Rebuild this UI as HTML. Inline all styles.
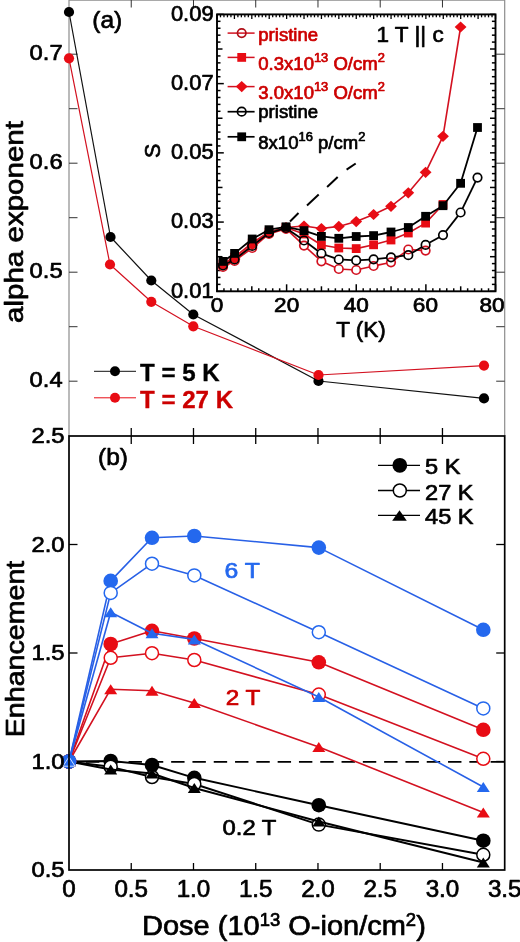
<!DOCTYPE html><html><head><meta charset="utf-8"><title>Figure</title><style>html,body{margin:0;padding:0;background:#fff}svg{display:block}text{font-family:"Liberation Sans",Arial,Helvetica,sans-serif}</style></head><body>
<svg width="520" height="942" viewBox="0 0 520 942">
<rect width="520" height="942" fill="#fff"/>
<line x1="69.00" y1="0.00" x2="69.00" y2="436.00" stroke="#8c8c8c" stroke-width="1.2" />
<line x1="504.70" y1="0.00" x2="504.70" y2="436.00" stroke="#8c8c8c" stroke-width="1.2" />
<line x1="69.00" y1="0.20" x2="504.70" y2="0.20" stroke="#8c8c8c" stroke-width="1.2" />
<line x1="69.00" y1="54.20" x2="77.50" y2="54.20" stroke="#333" stroke-width="1" />
<line x1="496.20" y1="54.20" x2="504.70" y2="54.20" stroke="#333" stroke-width="1" />
<line x1="69.00" y1="108.70" x2="77.50" y2="108.70" stroke="#333" stroke-width="1" />
<line x1="496.20" y1="108.70" x2="504.70" y2="108.70" stroke="#333" stroke-width="1" />
<line x1="69.00" y1="163.20" x2="77.50" y2="163.20" stroke="#333" stroke-width="1" />
<line x1="496.20" y1="163.20" x2="504.70" y2="163.20" stroke="#333" stroke-width="1" />
<line x1="69.00" y1="217.70" x2="77.50" y2="217.70" stroke="#333" stroke-width="1" />
<line x1="496.20" y1="217.70" x2="504.70" y2="217.70" stroke="#333" stroke-width="1" />
<line x1="69.00" y1="272.20" x2="77.50" y2="272.20" stroke="#333" stroke-width="1" />
<line x1="496.20" y1="272.20" x2="504.70" y2="272.20" stroke="#333" stroke-width="1" />
<line x1="69.00" y1="326.70" x2="77.50" y2="326.70" stroke="#333" stroke-width="1" />
<line x1="496.20" y1="326.70" x2="504.70" y2="326.70" stroke="#333" stroke-width="1" />
<line x1="69.00" y1="381.20" x2="77.50" y2="381.20" stroke="#333" stroke-width="1" />
<line x1="496.20" y1="381.20" x2="504.70" y2="381.20" stroke="#333" stroke-width="1" />
<line x1="131.24" y1="0.00" x2="131.24" y2="7.50" stroke="#333" stroke-width="1" />
<line x1="193.49" y1="0.00" x2="193.49" y2="7.50" stroke="#333" stroke-width="1" />
<line x1="255.73" y1="0.00" x2="255.73" y2="7.50" stroke="#333" stroke-width="1" />
<line x1="317.97" y1="0.00" x2="317.97" y2="7.50" stroke="#333" stroke-width="1" />
<line x1="380.21" y1="0.00" x2="380.21" y2="7.50" stroke="#333" stroke-width="1" />
<line x1="442.46" y1="0.00" x2="442.46" y2="7.50" stroke="#333" stroke-width="1" />
<polyline fill="none" stroke="#111" stroke-width="1.2" stroke-linejoin="round" points="69.0,12.0 110.5,237.0 151.3,280.5 193.3,314.5 318.5,381.0 484.0,398.4"/>
<polyline fill="none" stroke="#d31120" stroke-width="1.2" stroke-linejoin="round" points="69.0,58.3 110.0,264.5 151.3,301.8 193.3,326.3 318.5,375.0 484.0,365.6"/>
<circle cx="69.0" cy="12.0" r="5.1" fill="#000" stroke="none" stroke-width="0"/>
<circle cx="110.5" cy="237.0" r="5.1" fill="#000" stroke="none" stroke-width="0"/>
<circle cx="151.3" cy="280.5" r="5.1" fill="#000" stroke="none" stroke-width="0"/>
<circle cx="193.3" cy="314.5" r="5.1" fill="#000" stroke="none" stroke-width="0"/>
<circle cx="318.5" cy="381.0" r="5.1" fill="#000" stroke="none" stroke-width="0"/>
<circle cx="484.0" cy="398.4" r="5.1" fill="#000" stroke="none" stroke-width="0"/>
<circle cx="69.0" cy="58.3" r="5.1" fill="#e80c14" stroke="none" stroke-width="0"/>
<circle cx="110.0" cy="264.5" r="5.1" fill="#e80c14" stroke="none" stroke-width="0"/>
<circle cx="151.3" cy="301.8" r="5.1" fill="#e80c14" stroke="none" stroke-width="0"/>
<circle cx="193.3" cy="326.3" r="5.1" fill="#e80c14" stroke="none" stroke-width="0"/>
<circle cx="318.5" cy="375.0" r="5.1" fill="#e80c14" stroke="none" stroke-width="0"/>
<circle cx="484.0" cy="365.6" r="5.1" fill="#e80c14" stroke="none" stroke-width="0"/>
<line x1="94.00" y1="371.30" x2="136.00" y2="371.30" stroke="#111" stroke-width="1" />
<circle cx="115.0" cy="371.3" r="5" fill="#000" stroke="none" stroke-width="0"/>
<line x1="94.00" y1="397.80" x2="136.00" y2="397.80" stroke="#e80c14" stroke-width="1" />
<circle cx="115.0" cy="397.8" r="5" fill="#e80c14" stroke="none" stroke-width="0"/>
<text transform="translate(140.00,381.30) scale(0.985,1)" font-size="24.5" text-anchor="start" fill="#000" font-weight="bold"  stroke="#000" stroke-width="0.35" stroke-linejoin="round">T = 5 K</text>
<text transform="translate(140.00,408.20) scale(0.985,1)" font-size="24.5" text-anchor="start" fill="#cc0000" font-weight="bold"  stroke="#cc0000" stroke-width="0.35" stroke-linejoin="round">T = 27 K</text>
<text transform="translate(92.30,28.30)" font-size="24.5" text-anchor="start" fill="#000" font-weight="normal"  stroke="#000" stroke-width="0.7" stroke-linejoin="round">(a)</text>
<text transform="translate(62.60,60.00) scale(1.08,1)" font-size="22" text-anchor="end" fill="#000" font-weight="normal"  stroke="#000" stroke-width="0.7" stroke-linejoin="round">0.7</text>
<text transform="translate(62.60,169.00) scale(1.08,1)" font-size="22" text-anchor="end" fill="#000" font-weight="normal"  stroke="#000" stroke-width="0.7" stroke-linejoin="round">0.6</text>
<text transform="translate(62.60,278.00) scale(1.08,1)" font-size="22" text-anchor="end" fill="#000" font-weight="normal"  stroke="#000" stroke-width="0.7" stroke-linejoin="round">0.5</text>
<text transform="translate(62.60,387.00) scale(1.08,1)" font-size="22" text-anchor="end" fill="#000" font-weight="normal"  stroke="#000" stroke-width="0.7" stroke-linejoin="round">0.4</text>
<text transform="translate(22.90,222.00) rotate(-90) scale(1.115,1)" font-size="26.5" text-anchor="middle" fill="#000" font-weight="normal"  stroke="#000" stroke-width="0.7" stroke-linejoin="round">alpha exponent</text>
<rect x="217.0" y="14.4" width="278.5" height="276.90000000000003" fill="#fff" stroke="none"/>
<line x1="217.00" y1="291.30" x2="223.80" y2="291.30" stroke="#000" stroke-width="1.5" />
<line x1="490.00" y1="291.30" x2="495.50" y2="291.30" stroke="#000" stroke-width="1.5" />
<line x1="217.00" y1="284.38" x2="220.50" y2="284.38" stroke="#000" stroke-width="1.5" />
<line x1="491.90" y1="284.38" x2="495.50" y2="284.38" stroke="#000" stroke-width="1.5" />
<line x1="217.00" y1="277.45" x2="220.50" y2="277.45" stroke="#000" stroke-width="1.5" />
<line x1="491.90" y1="277.45" x2="495.50" y2="277.45" stroke="#000" stroke-width="1.5" />
<line x1="217.00" y1="270.53" x2="220.50" y2="270.53" stroke="#000" stroke-width="1.5" />
<line x1="491.90" y1="270.53" x2="495.50" y2="270.53" stroke="#000" stroke-width="1.5" />
<line x1="217.00" y1="263.61" x2="220.50" y2="263.61" stroke="#000" stroke-width="1.5" />
<line x1="491.90" y1="263.61" x2="495.50" y2="263.61" stroke="#000" stroke-width="1.5" />
<line x1="217.00" y1="256.69" x2="222.50" y2="256.69" stroke="#000" stroke-width="1.5" />
<line x1="490.00" y1="256.69" x2="495.50" y2="256.69" stroke="#000" stroke-width="1.5" />
<line x1="217.00" y1="249.77" x2="220.50" y2="249.77" stroke="#000" stroke-width="1.5" />
<line x1="491.90" y1="249.77" x2="495.50" y2="249.77" stroke="#000" stroke-width="1.5" />
<line x1="217.00" y1="242.84" x2="220.50" y2="242.84" stroke="#000" stroke-width="1.5" />
<line x1="491.90" y1="242.84" x2="495.50" y2="242.84" stroke="#000" stroke-width="1.5" />
<line x1="217.00" y1="235.92" x2="220.50" y2="235.92" stroke="#000" stroke-width="1.5" />
<line x1="491.90" y1="235.92" x2="495.50" y2="235.92" stroke="#000" stroke-width="1.5" />
<line x1="217.00" y1="229.00" x2="220.50" y2="229.00" stroke="#000" stroke-width="1.5" />
<line x1="491.90" y1="229.00" x2="495.50" y2="229.00" stroke="#000" stroke-width="1.5" />
<line x1="217.00" y1="222.07" x2="223.80" y2="222.07" stroke="#000" stroke-width="1.5" />
<line x1="490.00" y1="222.07" x2="495.50" y2="222.07" stroke="#000" stroke-width="1.5" />
<line x1="217.00" y1="215.15" x2="220.50" y2="215.15" stroke="#000" stroke-width="1.5" />
<line x1="491.90" y1="215.15" x2="495.50" y2="215.15" stroke="#000" stroke-width="1.5" />
<line x1="217.00" y1="208.23" x2="220.50" y2="208.23" stroke="#000" stroke-width="1.5" />
<line x1="491.90" y1="208.23" x2="495.50" y2="208.23" stroke="#000" stroke-width="1.5" />
<line x1="217.00" y1="201.31" x2="220.50" y2="201.31" stroke="#000" stroke-width="1.5" />
<line x1="491.90" y1="201.31" x2="495.50" y2="201.31" stroke="#000" stroke-width="1.5" />
<line x1="217.00" y1="194.38" x2="220.50" y2="194.38" stroke="#000" stroke-width="1.5" />
<line x1="491.90" y1="194.38" x2="495.50" y2="194.38" stroke="#000" stroke-width="1.5" />
<line x1="217.00" y1="187.46" x2="222.50" y2="187.46" stroke="#000" stroke-width="1.5" />
<line x1="490.00" y1="187.46" x2="495.50" y2="187.46" stroke="#000" stroke-width="1.5" />
<line x1="217.00" y1="180.54" x2="220.50" y2="180.54" stroke="#000" stroke-width="1.5" />
<line x1="491.90" y1="180.54" x2="495.50" y2="180.54" stroke="#000" stroke-width="1.5" />
<line x1="217.00" y1="173.62" x2="220.50" y2="173.62" stroke="#000" stroke-width="1.5" />
<line x1="491.90" y1="173.62" x2="495.50" y2="173.62" stroke="#000" stroke-width="1.5" />
<line x1="217.00" y1="166.69" x2="220.50" y2="166.69" stroke="#000" stroke-width="1.5" />
<line x1="491.90" y1="166.69" x2="495.50" y2="166.69" stroke="#000" stroke-width="1.5" />
<line x1="217.00" y1="159.77" x2="220.50" y2="159.77" stroke="#000" stroke-width="1.5" />
<line x1="491.90" y1="159.77" x2="495.50" y2="159.77" stroke="#000" stroke-width="1.5" />
<line x1="217.00" y1="152.85" x2="223.80" y2="152.85" stroke="#000" stroke-width="1.5" />
<line x1="490.00" y1="152.85" x2="495.50" y2="152.85" stroke="#000" stroke-width="1.5" />
<line x1="217.00" y1="145.93" x2="220.50" y2="145.93" stroke="#000" stroke-width="1.5" />
<line x1="491.90" y1="145.93" x2="495.50" y2="145.93" stroke="#000" stroke-width="1.5" />
<line x1="217.00" y1="139.01" x2="220.50" y2="139.01" stroke="#000" stroke-width="1.5" />
<line x1="491.90" y1="139.01" x2="495.50" y2="139.01" stroke="#000" stroke-width="1.5" />
<line x1="217.00" y1="132.08" x2="220.50" y2="132.08" stroke="#000" stroke-width="1.5" />
<line x1="491.90" y1="132.08" x2="495.50" y2="132.08" stroke="#000" stroke-width="1.5" />
<line x1="217.00" y1="125.16" x2="220.50" y2="125.16" stroke="#000" stroke-width="1.5" />
<line x1="491.90" y1="125.16" x2="495.50" y2="125.16" stroke="#000" stroke-width="1.5" />
<line x1="217.00" y1="118.24" x2="222.50" y2="118.24" stroke="#000" stroke-width="1.5" />
<line x1="490.00" y1="118.24" x2="495.50" y2="118.24" stroke="#000" stroke-width="1.5" />
<line x1="217.00" y1="111.31" x2="220.50" y2="111.31" stroke="#000" stroke-width="1.5" />
<line x1="491.90" y1="111.31" x2="495.50" y2="111.31" stroke="#000" stroke-width="1.5" />
<line x1="217.00" y1="104.39" x2="220.50" y2="104.39" stroke="#000" stroke-width="1.5" />
<line x1="491.90" y1="104.39" x2="495.50" y2="104.39" stroke="#000" stroke-width="1.5" />
<line x1="217.00" y1="97.47" x2="220.50" y2="97.47" stroke="#000" stroke-width="1.5" />
<line x1="491.90" y1="97.47" x2="495.50" y2="97.47" stroke="#000" stroke-width="1.5" />
<line x1="217.00" y1="90.55" x2="220.50" y2="90.55" stroke="#000" stroke-width="1.5" />
<line x1="491.90" y1="90.55" x2="495.50" y2="90.55" stroke="#000" stroke-width="1.5" />
<line x1="217.00" y1="83.62" x2="223.80" y2="83.62" stroke="#000" stroke-width="1.5" />
<line x1="490.00" y1="83.62" x2="495.50" y2="83.62" stroke="#000" stroke-width="1.5" />
<line x1="217.00" y1="76.70" x2="220.50" y2="76.70" stroke="#000" stroke-width="1.5" />
<line x1="491.90" y1="76.70" x2="495.50" y2="76.70" stroke="#000" stroke-width="1.5" />
<line x1="217.00" y1="69.78" x2="220.50" y2="69.78" stroke="#000" stroke-width="1.5" />
<line x1="491.90" y1="69.78" x2="495.50" y2="69.78" stroke="#000" stroke-width="1.5" />
<line x1="217.00" y1="62.86" x2="220.50" y2="62.86" stroke="#000" stroke-width="1.5" />
<line x1="491.90" y1="62.86" x2="495.50" y2="62.86" stroke="#000" stroke-width="1.5" />
<line x1="217.00" y1="55.93" x2="220.50" y2="55.93" stroke="#000" stroke-width="1.5" />
<line x1="491.90" y1="55.93" x2="495.50" y2="55.93" stroke="#000" stroke-width="1.5" />
<line x1="217.00" y1="49.01" x2="222.50" y2="49.01" stroke="#000" stroke-width="1.5" />
<line x1="490.00" y1="49.01" x2="495.50" y2="49.01" stroke="#000" stroke-width="1.5" />
<line x1="217.00" y1="42.09" x2="220.50" y2="42.09" stroke="#000" stroke-width="1.5" />
<line x1="491.90" y1="42.09" x2="495.50" y2="42.09" stroke="#000" stroke-width="1.5" />
<line x1="217.00" y1="35.17" x2="220.50" y2="35.17" stroke="#000" stroke-width="1.5" />
<line x1="491.90" y1="35.17" x2="495.50" y2="35.17" stroke="#000" stroke-width="1.5" />
<line x1="217.00" y1="28.25" x2="220.50" y2="28.25" stroke="#000" stroke-width="1.5" />
<line x1="491.90" y1="28.25" x2="495.50" y2="28.25" stroke="#000" stroke-width="1.5" />
<line x1="217.00" y1="21.32" x2="220.50" y2="21.32" stroke="#000" stroke-width="1.5" />
<line x1="491.90" y1="21.32" x2="495.50" y2="21.32" stroke="#000" stroke-width="1.5" />
<line x1="217.00" y1="14.40" x2="223.80" y2="14.40" stroke="#000" stroke-width="1.5" />
<line x1="490.00" y1="14.40" x2="495.50" y2="14.40" stroke="#000" stroke-width="1.5" />
<line x1="217.00" y1="291.30" x2="217.00" y2="284.30" stroke="#000" stroke-width="1.5" />
<line x1="223.96" y1="291.30" x2="223.96" y2="288.30" stroke="#000" stroke-width="1.5" />
<line x1="230.93" y1="291.30" x2="230.93" y2="288.30" stroke="#000" stroke-width="1.5" />
<line x1="237.89" y1="291.30" x2="237.89" y2="288.30" stroke="#000" stroke-width="1.5" />
<line x1="244.85" y1="291.30" x2="244.85" y2="288.30" stroke="#000" stroke-width="1.5" />
<line x1="251.81" y1="291.30" x2="251.81" y2="286.30" stroke="#000" stroke-width="1.5" />
<line x1="258.77" y1="291.30" x2="258.77" y2="288.30" stroke="#000" stroke-width="1.5" />
<line x1="265.74" y1="291.30" x2="265.74" y2="288.30" stroke="#000" stroke-width="1.5" />
<line x1="272.70" y1="291.30" x2="272.70" y2="288.30" stroke="#000" stroke-width="1.5" />
<line x1="279.66" y1="291.30" x2="279.66" y2="288.30" stroke="#000" stroke-width="1.5" />
<line x1="286.62" y1="291.30" x2="286.62" y2="284.30" stroke="#000" stroke-width="1.5" />
<line x1="293.59" y1="291.30" x2="293.59" y2="288.30" stroke="#000" stroke-width="1.5" />
<line x1="300.55" y1="291.30" x2="300.55" y2="288.30" stroke="#000" stroke-width="1.5" />
<line x1="307.51" y1="291.30" x2="307.51" y2="288.30" stroke="#000" stroke-width="1.5" />
<line x1="314.48" y1="291.30" x2="314.48" y2="288.30" stroke="#000" stroke-width="1.5" />
<line x1="321.44" y1="291.30" x2="321.44" y2="286.30" stroke="#000" stroke-width="1.5" />
<line x1="328.40" y1="291.30" x2="328.40" y2="288.30" stroke="#000" stroke-width="1.5" />
<line x1="335.36" y1="291.30" x2="335.36" y2="288.30" stroke="#000" stroke-width="1.5" />
<line x1="342.32" y1="291.30" x2="342.32" y2="288.30" stroke="#000" stroke-width="1.5" />
<line x1="349.29" y1="291.30" x2="349.29" y2="288.30" stroke="#000" stroke-width="1.5" />
<line x1="356.25" y1="291.30" x2="356.25" y2="284.30" stroke="#000" stroke-width="1.5" />
<line x1="363.21" y1="291.30" x2="363.21" y2="288.30" stroke="#000" stroke-width="1.5" />
<line x1="370.18" y1="291.30" x2="370.18" y2="288.30" stroke="#000" stroke-width="1.5" />
<line x1="377.14" y1="291.30" x2="377.14" y2="288.30" stroke="#000" stroke-width="1.5" />
<line x1="384.10" y1="291.30" x2="384.10" y2="288.30" stroke="#000" stroke-width="1.5" />
<line x1="391.06" y1="291.30" x2="391.06" y2="286.30" stroke="#000" stroke-width="1.5" />
<line x1="398.02" y1="291.30" x2="398.02" y2="288.30" stroke="#000" stroke-width="1.5" />
<line x1="404.99" y1="291.30" x2="404.99" y2="288.30" stroke="#000" stroke-width="1.5" />
<line x1="411.95" y1="291.30" x2="411.95" y2="288.30" stroke="#000" stroke-width="1.5" />
<line x1="418.91" y1="291.30" x2="418.91" y2="288.30" stroke="#000" stroke-width="1.5" />
<line x1="425.88" y1="291.30" x2="425.88" y2="284.30" stroke="#000" stroke-width="1.5" />
<line x1="432.84" y1="291.30" x2="432.84" y2="288.30" stroke="#000" stroke-width="1.5" />
<line x1="439.80" y1="291.30" x2="439.80" y2="288.30" stroke="#000" stroke-width="1.5" />
<line x1="446.76" y1="291.30" x2="446.76" y2="288.30" stroke="#000" stroke-width="1.5" />
<line x1="453.73" y1="291.30" x2="453.73" y2="288.30" stroke="#000" stroke-width="1.5" />
<line x1="460.69" y1="291.30" x2="460.69" y2="286.30" stroke="#000" stroke-width="1.5" />
<line x1="467.65" y1="291.30" x2="467.65" y2="288.30" stroke="#000" stroke-width="1.5" />
<line x1="474.61" y1="291.30" x2="474.61" y2="288.30" stroke="#000" stroke-width="1.5" />
<line x1="481.57" y1="291.30" x2="481.57" y2="288.30" stroke="#000" stroke-width="1.5" />
<line x1="488.54" y1="291.30" x2="488.54" y2="288.30" stroke="#000" stroke-width="1.5" />
<line x1="495.50" y1="291.30" x2="495.50" y2="284.30" stroke="#000" stroke-width="1.5" />
<line x1="217.00" y1="14.40" x2="217.00" y2="19.00" stroke="#000" stroke-width="1.3" />
<line x1="220.48" y1="14.40" x2="220.48" y2="17.30" stroke="#000" stroke-width="1.3" />
<line x1="223.96" y1="14.40" x2="223.96" y2="17.30" stroke="#000" stroke-width="1.3" />
<line x1="227.44" y1="14.40" x2="227.44" y2="17.30" stroke="#000" stroke-width="1.3" />
<line x1="230.93" y1="14.40" x2="230.93" y2="17.30" stroke="#000" stroke-width="1.3" />
<line x1="234.41" y1="14.40" x2="234.41" y2="19.00" stroke="#000" stroke-width="1.3" />
<line x1="237.89" y1="14.40" x2="237.89" y2="17.30" stroke="#000" stroke-width="1.3" />
<line x1="241.37" y1="14.40" x2="241.37" y2="17.30" stroke="#000" stroke-width="1.3" />
<line x1="244.85" y1="14.40" x2="244.85" y2="17.30" stroke="#000" stroke-width="1.3" />
<line x1="248.33" y1="14.40" x2="248.33" y2="17.30" stroke="#000" stroke-width="1.3" />
<line x1="251.81" y1="14.40" x2="251.81" y2="19.00" stroke="#000" stroke-width="1.3" />
<line x1="255.29" y1="14.40" x2="255.29" y2="17.30" stroke="#000" stroke-width="1.3" />
<line x1="258.77" y1="14.40" x2="258.77" y2="17.30" stroke="#000" stroke-width="1.3" />
<line x1="262.26" y1="14.40" x2="262.26" y2="17.30" stroke="#000" stroke-width="1.3" />
<line x1="265.74" y1="14.40" x2="265.74" y2="17.30" stroke="#000" stroke-width="1.3" />
<line x1="269.22" y1="14.40" x2="269.22" y2="19.00" stroke="#000" stroke-width="1.3" />
<line x1="272.70" y1="14.40" x2="272.70" y2="17.30" stroke="#000" stroke-width="1.3" />
<line x1="276.18" y1="14.40" x2="276.18" y2="17.30" stroke="#000" stroke-width="1.3" />
<line x1="279.66" y1="14.40" x2="279.66" y2="17.30" stroke="#000" stroke-width="1.3" />
<line x1="283.14" y1="14.40" x2="283.14" y2="17.30" stroke="#000" stroke-width="1.3" />
<line x1="286.62" y1="14.40" x2="286.62" y2="19.00" stroke="#000" stroke-width="1.3" />
<line x1="290.11" y1="14.40" x2="290.11" y2="17.30" stroke="#000" stroke-width="1.3" />
<line x1="293.59" y1="14.40" x2="293.59" y2="17.30" stroke="#000" stroke-width="1.3" />
<line x1="297.07" y1="14.40" x2="297.07" y2="17.30" stroke="#000" stroke-width="1.3" />
<line x1="300.55" y1="14.40" x2="300.55" y2="17.30" stroke="#000" stroke-width="1.3" />
<line x1="304.03" y1="14.40" x2="304.03" y2="19.00" stroke="#000" stroke-width="1.3" />
<line x1="307.51" y1="14.40" x2="307.51" y2="17.30" stroke="#000" stroke-width="1.3" />
<line x1="310.99" y1="14.40" x2="310.99" y2="17.30" stroke="#000" stroke-width="1.3" />
<line x1="314.48" y1="14.40" x2="314.48" y2="17.30" stroke="#000" stroke-width="1.3" />
<line x1="317.96" y1="14.40" x2="317.96" y2="17.30" stroke="#000" stroke-width="1.3" />
<line x1="321.44" y1="14.40" x2="321.44" y2="19.00" stroke="#000" stroke-width="1.3" />
<line x1="324.92" y1="14.40" x2="324.92" y2="17.30" stroke="#000" stroke-width="1.3" />
<line x1="328.40" y1="14.40" x2="328.40" y2="17.30" stroke="#000" stroke-width="1.3" />
<line x1="331.88" y1="14.40" x2="331.88" y2="17.30" stroke="#000" stroke-width="1.3" />
<line x1="335.36" y1="14.40" x2="335.36" y2="17.30" stroke="#000" stroke-width="1.3" />
<line x1="338.84" y1="14.40" x2="338.84" y2="19.00" stroke="#000" stroke-width="1.3" />
<line x1="342.32" y1="14.40" x2="342.32" y2="17.30" stroke="#000" stroke-width="1.3" />
<line x1="345.81" y1="14.40" x2="345.81" y2="17.30" stroke="#000" stroke-width="1.3" />
<line x1="349.29" y1="14.40" x2="349.29" y2="17.30" stroke="#000" stroke-width="1.3" />
<line x1="352.77" y1="14.40" x2="352.77" y2="17.30" stroke="#000" stroke-width="1.3" />
<line x1="356.25" y1="14.40" x2="356.25" y2="19.00" stroke="#000" stroke-width="1.3" />
<line x1="359.73" y1="14.40" x2="359.73" y2="17.30" stroke="#000" stroke-width="1.3" />
<line x1="363.21" y1="14.40" x2="363.21" y2="17.30" stroke="#000" stroke-width="1.3" />
<line x1="366.69" y1="14.40" x2="366.69" y2="17.30" stroke="#000" stroke-width="1.3" />
<line x1="370.18" y1="14.40" x2="370.18" y2="17.30" stroke="#000" stroke-width="1.3" />
<line x1="373.66" y1="14.40" x2="373.66" y2="19.00" stroke="#000" stroke-width="1.3" />
<line x1="377.14" y1="14.40" x2="377.14" y2="17.30" stroke="#000" stroke-width="1.3" />
<line x1="380.62" y1="14.40" x2="380.62" y2="17.30" stroke="#000" stroke-width="1.3" />
<line x1="384.10" y1="14.40" x2="384.10" y2="17.30" stroke="#000" stroke-width="1.3" />
<line x1="387.58" y1="14.40" x2="387.58" y2="17.30" stroke="#000" stroke-width="1.3" />
<line x1="391.06" y1="14.40" x2="391.06" y2="19.00" stroke="#000" stroke-width="1.3" />
<line x1="394.54" y1="14.40" x2="394.54" y2="17.30" stroke="#000" stroke-width="1.3" />
<line x1="398.02" y1="14.40" x2="398.02" y2="17.30" stroke="#000" stroke-width="1.3" />
<line x1="401.51" y1="14.40" x2="401.51" y2="17.30" stroke="#000" stroke-width="1.3" />
<line x1="404.99" y1="14.40" x2="404.99" y2="17.30" stroke="#000" stroke-width="1.3" />
<line x1="408.47" y1="14.40" x2="408.47" y2="19.00" stroke="#000" stroke-width="1.3" />
<line x1="411.95" y1="14.40" x2="411.95" y2="17.30" stroke="#000" stroke-width="1.3" />
<line x1="415.43" y1="14.40" x2="415.43" y2="17.30" stroke="#000" stroke-width="1.3" />
<line x1="418.91" y1="14.40" x2="418.91" y2="17.30" stroke="#000" stroke-width="1.3" />
<line x1="422.39" y1="14.40" x2="422.39" y2="17.30" stroke="#000" stroke-width="1.3" />
<line x1="425.88" y1="14.40" x2="425.88" y2="19.00" stroke="#000" stroke-width="1.3" />
<line x1="429.36" y1="14.40" x2="429.36" y2="17.30" stroke="#000" stroke-width="1.3" />
<line x1="432.84" y1="14.40" x2="432.84" y2="17.30" stroke="#000" stroke-width="1.3" />
<line x1="436.32" y1="14.40" x2="436.32" y2="17.30" stroke="#000" stroke-width="1.3" />
<line x1="439.80" y1="14.40" x2="439.80" y2="17.30" stroke="#000" stroke-width="1.3" />
<line x1="443.28" y1="14.40" x2="443.28" y2="19.00" stroke="#000" stroke-width="1.3" />
<line x1="446.76" y1="14.40" x2="446.76" y2="17.30" stroke="#000" stroke-width="1.3" />
<line x1="450.24" y1="14.40" x2="450.24" y2="17.30" stroke="#000" stroke-width="1.3" />
<line x1="453.73" y1="14.40" x2="453.73" y2="17.30" stroke="#000" stroke-width="1.3" />
<line x1="457.21" y1="14.40" x2="457.21" y2="17.30" stroke="#000" stroke-width="1.3" />
<line x1="460.69" y1="14.40" x2="460.69" y2="19.00" stroke="#000" stroke-width="1.3" />
<line x1="464.17" y1="14.40" x2="464.17" y2="17.30" stroke="#000" stroke-width="1.3" />
<line x1="467.65" y1="14.40" x2="467.65" y2="17.30" stroke="#000" stroke-width="1.3" />
<line x1="471.13" y1="14.40" x2="471.13" y2="17.30" stroke="#000" stroke-width="1.3" />
<line x1="474.61" y1="14.40" x2="474.61" y2="17.30" stroke="#000" stroke-width="1.3" />
<line x1="478.09" y1="14.40" x2="478.09" y2="19.00" stroke="#000" stroke-width="1.3" />
<line x1="481.57" y1="14.40" x2="481.57" y2="17.30" stroke="#000" stroke-width="1.3" />
<line x1="485.06" y1="14.40" x2="485.06" y2="17.30" stroke="#000" stroke-width="1.3" />
<line x1="488.54" y1="14.40" x2="488.54" y2="17.30" stroke="#000" stroke-width="1.3" />
<line x1="492.02" y1="14.40" x2="492.02" y2="17.30" stroke="#000" stroke-width="1.3" />
<line x1="495.50" y1="14.40" x2="495.50" y2="19.00" stroke="#000" stroke-width="1.3" />
<line x1="290.00" y1="221.50" x2="298.50" y2="213.00" stroke="#000" stroke-width="2" />
<line x1="307.00" y1="205.60" x2="318.70" y2="194.60" stroke="#000" stroke-width="2" />
<line x1="327.10" y1="187.00" x2="337.70" y2="177.00" stroke="#000" stroke-width="2" />
<line x1="346.60" y1="169.60" x2="355.70" y2="163.50" stroke="#000" stroke-width="2" />
<line x1="226.77" y1="265.05" x2="230.83" y2="262.95" stroke="#d31120" stroke-width="1.6" />
<line x1="238.02" y1="258.47" x2="248.78" y2="250.53" stroke="#d31120" stroke-width="1.6" />
<line x1="255.46" y1="245.28" x2="265.74" y2="236.72" stroke="#d31120" stroke-width="1.6" />
<line x1="273.06" y1="232.76" x2="281.94" y2="230.04" stroke="#d31120" stroke-width="1.6" />
<line x1="289.11" y1="231.70" x2="300.89" y2="242.70" stroke="#d31120" stroke-width="1.6" />
<line x1="307.16" y1="248.45" x2="318.24" y2="258.45" stroke="#d31120" stroke-width="1.6" />
<line x1="325.29" y1="263.02" x2="334.91" y2="267.28" stroke="#d31120" stroke-width="1.6" />
<line x1="343.04" y1="269.24" x2="351.96" y2="269.76" stroke="#d31120" stroke-width="1.6" />
<line x1="360.34" y1="269.05" x2="369.46" y2="266.95" stroke="#d31120" stroke-width="1.6" />
<line x1="377.76" y1="265.12" x2="386.84" y2="263.18" stroke="#d31120" stroke-width="1.6" />
<line x1="394.42" y1="259.77" x2="404.88" y2="252.03" stroke="#d31120" stroke-width="1.6" />
<line x1="412.54" y1="249.77" x2="421.36" y2="250.33" stroke="#d31120" stroke-width="1.6" />
<circle cx="223.0" cy="267.0" r="4.25" fill="none" stroke="#d31120" stroke-width="1.7"/>
<circle cx="234.6" cy="261.0" r="4.25" fill="none" stroke="#d31120" stroke-width="1.7"/>
<circle cx="252.2" cy="248.0" r="4.25" fill="none" stroke="#d31120" stroke-width="1.7"/>
<circle cx="269.0" cy="234.0" r="4.25" fill="none" stroke="#d31120" stroke-width="1.7"/>
<circle cx="286.0" cy="228.8" r="4.25" fill="none" stroke="#d31120" stroke-width="1.7"/>
<circle cx="304.0" cy="245.6" r="4.25" fill="none" stroke="#d31120" stroke-width="1.7"/>
<circle cx="321.4" cy="261.3" r="4.25" fill="none" stroke="#d31120" stroke-width="1.7"/>
<circle cx="338.8" cy="269.0" r="4.25" fill="none" stroke="#d31120" stroke-width="1.7"/>
<circle cx="356.2" cy="270.0" r="4.25" fill="none" stroke="#d31120" stroke-width="1.7"/>
<circle cx="373.6" cy="266.0" r="4.25" fill="none" stroke="#d31120" stroke-width="1.7"/>
<circle cx="391.0" cy="262.3" r="4.25" fill="none" stroke="#d31120" stroke-width="1.7"/>
<circle cx="408.3" cy="249.5" r="4.25" fill="none" stroke="#d31120" stroke-width="1.7"/>
<circle cx="425.6" cy="250.6" r="4.25" fill="none" stroke="#d31120" stroke-width="1.7"/>
<polyline fill="none" stroke="#d31120" stroke-width="1.6" stroke-linejoin="round" points="223.0,264.0 234.6,257.0 252.2,243.0 269.0,232.0 286.0,227.5 304.0,234.0 321.4,245.0 338.8,248.0 356.2,248.6 373.6,244.8 391.0,240.0 408.3,233.0 425.6,223.1 443.0,204.5"/>
<rect x="218.6" y="259.6" width="8.8" height="8.8" fill="#e80c14"/>
<rect x="230.2" y="252.6" width="8.8" height="8.8" fill="#e80c14"/>
<rect x="247.8" y="238.6" width="8.8" height="8.8" fill="#e80c14"/>
<rect x="264.6" y="227.6" width="8.8" height="8.8" fill="#e80c14"/>
<rect x="281.6" y="223.1" width="8.8" height="8.8" fill="#e80c14"/>
<rect x="299.6" y="229.6" width="8.8" height="8.8" fill="#e80c14"/>
<rect x="317.0" y="240.6" width="8.8" height="8.8" fill="#e80c14"/>
<rect x="334.4" y="243.6" width="8.8" height="8.8" fill="#e80c14"/>
<rect x="351.8" y="244.2" width="8.8" height="8.8" fill="#e80c14"/>
<rect x="369.2" y="240.4" width="8.8" height="8.8" fill="#e80c14"/>
<rect x="386.6" y="235.6" width="8.8" height="8.8" fill="#e80c14"/>
<rect x="403.9" y="228.6" width="8.8" height="8.8" fill="#e80c14"/>
<rect x="421.2" y="218.7" width="8.8" height="8.8" fill="#e80c14"/>
<rect x="438.6" y="200.1" width="8.8" height="8.8" fill="#e80c14"/>
<polyline fill="none" stroke="#d31120" stroke-width="1.6" stroke-linejoin="round" points="223.0,265.0 234.6,259.0 252.2,245.0 269.0,232.5 286.0,227.5 304.0,226.0 321.4,228.5 338.8,226.4 356.2,221.6 373.6,214.5 391.0,206.3 408.3,192.8 425.6,172.3 443.0,136.3 460.6,27.0"/>
<polygon fill="#e80c14" points="223.0,259.4 228.9,265.0 223.0,270.6 217.1,265.0"/>
<polygon fill="#e80c14" points="234.6,253.4 240.5,259.0 234.6,264.6 228.7,259.0"/>
<polygon fill="#e80c14" points="252.2,239.4 258.1,245.0 252.2,250.6 246.3,245.0"/>
<polygon fill="#e80c14" points="269.0,226.9 274.9,232.5 269.0,238.1 263.1,232.5"/>
<polygon fill="#e80c14" points="286.0,221.9 291.9,227.5 286.0,233.1 280.1,227.5"/>
<polygon fill="#e80c14" points="304.0,220.4 309.9,226.0 304.0,231.6 298.1,226.0"/>
<polygon fill="#e80c14" points="321.4,222.9 327.3,228.5 321.4,234.1 315.5,228.5"/>
<polygon fill="#e80c14" points="338.8,220.8 344.7,226.4 338.8,232.0 332.9,226.4"/>
<polygon fill="#e80c14" points="356.2,216.0 362.1,221.6 356.2,227.2 350.3,221.6"/>
<polygon fill="#e80c14" points="373.6,208.9 379.5,214.5 373.6,220.1 367.7,214.5"/>
<polygon fill="#e80c14" points="391.0,200.7 396.9,206.3 391.0,211.9 385.1,206.3"/>
<polygon fill="#e80c14" points="408.3,187.2 414.2,192.8 408.3,198.4 402.4,192.8"/>
<polygon fill="#e80c14" points="425.6,166.7 431.5,172.3 425.6,177.9 419.7,172.3"/>
<polygon fill="#e80c14" points="443.0,130.7 448.9,136.3 443.0,141.9 437.1,136.3"/>
<polygon fill="#e80c14" points="460.6,21.4 466.5,27.0 460.6,32.6 454.7,27.0"/>
<line x1="226.77" y1="263.55" x2="230.83" y2="261.45" stroke="#000" stroke-width="1.8" />
<line x1="237.97" y1="256.91" x2="248.83" y2="248.59" stroke="#000" stroke-width="1.8" />
<line x1="255.56" y1="243.40" x2="265.64" y2="235.60" stroke="#000" stroke-width="1.8" />
<line x1="273.08" y1="231.80" x2="281.92" y2="229.20" stroke="#000" stroke-width="1.8" />
<line x1="289.49" y1="230.42" x2="300.51" y2="238.08" stroke="#000" stroke-width="1.8" />
<line x1="307.40" y1="243.04" x2="318.00" y2="250.96" stroke="#000" stroke-width="1.8" />
<line x1="325.42" y1="254.89" x2="334.78" y2="258.11" stroke="#000" stroke-width="1.8" />
<line x1="343.04" y1="259.72" x2="351.96" y2="260.18" stroke="#000" stroke-width="1.8" />
<line x1="360.44" y1="260.13" x2="369.36" y2="259.57" stroke="#000" stroke-width="1.8" />
<line x1="377.82" y1="258.81" x2="386.78" y2="257.79" stroke="#000" stroke-width="1.8" />
<line x1="395.22" y1="256.79" x2="404.08" y2="255.71" stroke="#000" stroke-width="1.8" />
<line x1="411.95" y1="253.03" x2="421.95" y2="247.07" stroke="#000" stroke-width="1.8" />
<line x1="429.30" y1="242.81" x2="439.30" y2="237.19" stroke="#000" stroke-width="1.8" />
<line x1="445.61" y1="231.75" x2="457.99" y2="215.85" stroke="#000" stroke-width="1.8" />
<line x1="462.45" y1="208.67" x2="475.65" y2="181.43" stroke="#000" stroke-width="1.8" />
<circle cx="223.0" cy="265.5" r="4.25" fill="none" stroke="#000" stroke-width="1.7"/>
<circle cx="234.6" cy="259.5" r="4.25" fill="none" stroke="#000" stroke-width="1.7"/>
<circle cx="252.2" cy="246.0" r="4.25" fill="none" stroke="#000" stroke-width="1.7"/>
<circle cx="269.0" cy="233.0" r="4.25" fill="none" stroke="#000" stroke-width="1.7"/>
<circle cx="286.0" cy="228.0" r="4.25" fill="none" stroke="#000" stroke-width="1.7"/>
<circle cx="304.0" cy="240.5" r="4.25" fill="none" stroke="#000" stroke-width="1.7"/>
<circle cx="321.4" cy="253.5" r="4.25" fill="none" stroke="#000" stroke-width="1.7"/>
<circle cx="338.8" cy="259.5" r="4.25" fill="none" stroke="#000" stroke-width="1.7"/>
<circle cx="356.2" cy="260.4" r="4.25" fill="none" stroke="#000" stroke-width="1.7"/>
<circle cx="373.6" cy="259.3" r="4.25" fill="none" stroke="#000" stroke-width="1.7"/>
<circle cx="391.0" cy="257.3" r="4.25" fill="none" stroke="#000" stroke-width="1.7"/>
<circle cx="408.3" cy="255.2" r="4.25" fill="none" stroke="#000" stroke-width="1.7"/>
<circle cx="425.6" cy="244.9" r="4.25" fill="none" stroke="#000" stroke-width="1.7"/>
<circle cx="443.0" cy="235.1" r="4.25" fill="none" stroke="#000" stroke-width="1.7"/>
<circle cx="460.6" cy="212.5" r="4.25" fill="none" stroke="#000" stroke-width="1.7"/>
<circle cx="477.5" cy="177.6" r="4.25" fill="none" stroke="#000" stroke-width="1.7"/>
<polyline fill="none" stroke="#000" stroke-width="1.8" stroke-linejoin="round" points="223.0,261.4 234.6,253.4 252.2,239.0 269.0,229.7 286.0,226.8 304.0,230.6 321.4,236.4 338.8,238.3 356.2,236.5 373.6,235.6 391.0,232.0 408.3,227.5 425.6,216.3 443.0,205.7 460.6,183.3 477.5,127.5"/>
<rect x="218.6" y="257.0" width="8.8" height="8.8" fill="#000"/>
<rect x="230.2" y="249.0" width="8.8" height="8.8" fill="#000"/>
<rect x="247.8" y="234.6" width="8.8" height="8.8" fill="#000"/>
<rect x="264.6" y="225.3" width="8.8" height="8.8" fill="#000"/>
<rect x="281.6" y="222.4" width="8.8" height="8.8" fill="#000"/>
<rect x="299.6" y="226.2" width="8.8" height="8.8" fill="#000"/>
<rect x="317.0" y="232.0" width="8.8" height="8.8" fill="#000"/>
<rect x="334.4" y="233.9" width="8.8" height="8.8" fill="#000"/>
<rect x="351.8" y="232.1" width="8.8" height="8.8" fill="#000"/>
<rect x="369.2" y="231.2" width="8.8" height="8.8" fill="#000"/>
<rect x="386.6" y="227.6" width="8.8" height="8.8" fill="#000"/>
<rect x="403.9" y="223.1" width="8.8" height="8.8" fill="#000"/>
<rect x="421.2" y="211.9" width="8.8" height="8.8" fill="#000"/>
<rect x="438.6" y="201.3" width="8.8" height="8.8" fill="#000"/>
<rect x="456.2" y="178.9" width="8.8" height="8.8" fill="#000"/>
<rect x="473.1" y="123.1" width="8.8" height="8.8" fill="#000"/>
<rect x="217.0" y="14.4" width="278.5" height="276.90000000000003" fill="none" stroke="#000" stroke-width="1.9"/>
<line x1="227.60" y1="33.10" x2="254.60" y2="33.10" stroke="#d31120" stroke-width="1.5" />
<circle cx="241.7" cy="33.1" r="4.25" fill="none" stroke="#b01018" stroke-width="1.7"/>
<line x1="227.60" y1="57.40" x2="254.60" y2="57.40" stroke="#d31120" stroke-width="1.5" />
<rect x="237.3" y="53.0" width="8.8" height="8.8" fill="#e80c14"/>
<line x1="227.60" y1="86.60" x2="254.60" y2="86.60" stroke="#d31120" stroke-width="1.5" />
<polygon fill="#e80c14" points="241.7,81.0 247.6,86.6 241.7,92.2 235.8,86.6"/>
<line x1="227.60" y1="111.70" x2="254.60" y2="111.70" stroke="#000" stroke-width="1.7" />
<circle cx="241.7" cy="111.7" r="4.25" fill="none" stroke="#000" stroke-width="1.7"/>
<line x1="227.60" y1="136.80" x2="254.60" y2="136.80" stroke="#000" stroke-width="1.7" />
<rect x="237.3" y="132.4" width="8.8" height="8.8" fill="#000"/>
<text transform="translate(258.30,40.50) scale(1.03,1)" font-size="18" text-anchor="start" fill="#cc0000" font-weight="normal"  stroke="#cc0000" stroke-width="0.7" stroke-linejoin="round">pristine</text>
<text transform="translate(258.30,69.50) scale(1.03,1)" font-size="18" text-anchor="start" fill="#cc0000" font-weight="normal"  stroke="#cc0000" stroke-width="0.7" stroke-linejoin="round">0.3x10<tspan font-size="12.5" dy="-8">13</tspan><tspan dy="8"> O/cm</tspan><tspan font-size="12.5" dy="-8">2</tspan></text>
<text transform="translate(258.30,99.00) scale(1.03,1)" font-size="18" text-anchor="start" fill="#cc0000" font-weight="normal"  stroke="#cc0000" stroke-width="0.7" stroke-linejoin="round">3.0x10<tspan font-size="12.5" dy="-8">13</tspan><tspan dy="8"> O/cm</tspan><tspan font-size="12.5" dy="-8">2</tspan></text>
<text transform="translate(258.30,118.00) scale(1.03,1)" font-size="18" text-anchor="start" fill="#000" font-weight="normal"  stroke="#000" stroke-width="0.7" stroke-linejoin="round">pristine</text>
<text transform="translate(258.30,149.20) scale(1.03,1)" font-size="18" text-anchor="start" fill="#000" font-weight="normal"  stroke="#000" stroke-width="0.7" stroke-linejoin="round">8x10<tspan font-size="12.5" dy="-8">16</tspan><tspan dy="8"> p/cm</tspan><tspan font-size="12.5" dy="-8">2</tspan></text>
<text transform="translate(376.50,41.50)" font-size="22.5" text-anchor="start" fill="#000" font-weight="normal"  stroke="#000" stroke-width="0.7" stroke-linejoin="round">1 T || c</text>
<text transform="translate(213.60,20.80) scale(1.02,1)" font-size="21.5" text-anchor="end" fill="#000" font-weight="normal"  stroke="#000" stroke-width="0.7" stroke-linejoin="round">0.09</text>
<text transform="translate(213.60,90.02) scale(1.02,1)" font-size="21.5" text-anchor="end" fill="#000" font-weight="normal"  stroke="#000" stroke-width="0.7" stroke-linejoin="round">0.07</text>
<text transform="translate(213.60,159.25) scale(1.02,1)" font-size="21.5" text-anchor="end" fill="#000" font-weight="normal"  stroke="#000" stroke-width="0.7" stroke-linejoin="round">0.05</text>
<text transform="translate(213.60,228.47) scale(1.02,1)" font-size="21.5" text-anchor="end" fill="#000" font-weight="normal"  stroke="#000" stroke-width="0.7" stroke-linejoin="round">0.03</text>
<text transform="translate(213.60,297.70) scale(1.02,1)" font-size="21.5" text-anchor="end" fill="#000" font-weight="normal"  stroke="#000" stroke-width="0.7" stroke-linejoin="round">0.01</text>
<text transform="translate(217.00,312.00) scale(1.1,1)" font-size="20.5" text-anchor="middle" fill="#000" font-weight="normal"  stroke="#000" stroke-width="0.7" stroke-linejoin="round">0</text>
<text transform="translate(286.62,312.00) scale(1.1,1)" font-size="20.5" text-anchor="middle" fill="#000" font-weight="normal"  stroke="#000" stroke-width="0.7" stroke-linejoin="round">20</text>
<text transform="translate(356.25,312.00) scale(1.1,1)" font-size="20.5" text-anchor="middle" fill="#000" font-weight="normal"  stroke="#000" stroke-width="0.7" stroke-linejoin="round">40</text>
<text transform="translate(425.38,312.00) scale(1.1,1)" font-size="20.5" text-anchor="middle" fill="#000" font-weight="normal"  stroke="#000" stroke-width="0.7" stroke-linejoin="round">60</text>
<text transform="translate(492.00,312.00) scale(1.1,1)" font-size="20.5" text-anchor="middle" fill="#000" font-weight="normal"  stroke="#000" stroke-width="0.7" stroke-linejoin="round">80</text>
<text transform="translate(361.00,337.30)" font-size="22.5" text-anchor="middle" fill="#000" font-weight="normal"  stroke="#000" stroke-width="0.7" stroke-linejoin="round">T (K)</text>
<text transform="translate(160.00,150.80) rotate(-90)" font-size="21.5" text-anchor="middle" fill="#000" font-weight="normal"  stroke="#000" stroke-width="0.7" stroke-linejoin="round">S</text>
<line x1="69.00" y1="544.50" x2="77.50" y2="544.50" stroke="#000" stroke-width="1.3" />
<line x1="496.20" y1="544.50" x2="504.70" y2="544.50" stroke="#000" stroke-width="1.3" />
<line x1="69.00" y1="653.00" x2="77.50" y2="653.00" stroke="#000" stroke-width="1.3" />
<line x1="496.20" y1="653.00" x2="504.70" y2="653.00" stroke="#000" stroke-width="1.3" />
<line x1="69.00" y1="761.50" x2="77.50" y2="761.50" stroke="#000" stroke-width="1.3" />
<line x1="496.20" y1="761.50" x2="504.70" y2="761.50" stroke="#000" stroke-width="1.3" />
<line x1="131.24" y1="428.00" x2="131.24" y2="444.00" stroke="#000" stroke-width="1.3" />
<line x1="131.24" y1="863.00" x2="131.24" y2="870.00" stroke="#000" stroke-width="1.3" />
<line x1="193.49" y1="428.00" x2="193.49" y2="444.00" stroke="#000" stroke-width="1.3" />
<line x1="193.49" y1="863.00" x2="193.49" y2="870.00" stroke="#000" stroke-width="1.3" />
<line x1="255.73" y1="428.00" x2="255.73" y2="444.00" stroke="#000" stroke-width="1.3" />
<line x1="255.73" y1="863.00" x2="255.73" y2="870.00" stroke="#000" stroke-width="1.3" />
<line x1="317.97" y1="428.00" x2="317.97" y2="444.00" stroke="#000" stroke-width="1.3" />
<line x1="317.97" y1="863.00" x2="317.97" y2="870.00" stroke="#000" stroke-width="1.3" />
<line x1="380.21" y1="428.00" x2="380.21" y2="444.00" stroke="#000" stroke-width="1.3" />
<line x1="380.21" y1="863.00" x2="380.21" y2="870.00" stroke="#000" stroke-width="1.3" />
<line x1="442.46" y1="428.00" x2="442.46" y2="444.00" stroke="#000" stroke-width="1.3" />
<line x1="442.46" y1="863.00" x2="442.46" y2="870.00" stroke="#000" stroke-width="1.3" />
<line x1="64.65" y1="761.9" x2="504.7" y2="761.9" stroke="#000" stroke-width="1.7" stroke-dasharray="13.4 7.9"/>
<polyline fill="none" stroke="#000" stroke-width="1.9" stroke-linejoin="round" points="69.0,761.5 110.7,761.0 152.0,765.0 194.3,777.8 318.8,805.2 483.3,840.7"/>
<circle cx="69.0" cy="761.5" r="7.3" fill="#000" stroke="none" stroke-width="0"/>
<circle cx="110.7" cy="761.0" r="7.3" fill="#000" stroke="none" stroke-width="0"/>
<circle cx="152.0" cy="765.0" r="7.3" fill="#000" stroke="none" stroke-width="0"/>
<circle cx="194.3" cy="777.8" r="7.3" fill="#000" stroke="none" stroke-width="0"/>
<circle cx="318.8" cy="805.2" r="7.3" fill="#000" stroke="none" stroke-width="0"/>
<circle cx="483.3" cy="840.7" r="7.3" fill="#000" stroke="none" stroke-width="0"/>
<polyline fill="none" stroke="#000" stroke-width="1.9" stroke-linejoin="round" points="69.0,761.5 110.7,766.8 152.0,777.0 194.3,784.0 318.8,824.6 483.3,854.8"/>
<circle cx="69.0" cy="761.5" r="6.5" fill="#fff" stroke="#000" stroke-width="1.5"/>
<circle cx="110.7" cy="766.8" r="6.5" fill="#fff" stroke="#000" stroke-width="1.5"/>
<circle cx="152.0" cy="777.0" r="6.5" fill="#fff" stroke="#000" stroke-width="1.5"/>
<circle cx="194.3" cy="784.0" r="6.5" fill="#fff" stroke="#000" stroke-width="1.5"/>
<circle cx="318.8" cy="824.6" r="6.5" fill="#fff" stroke="#000" stroke-width="1.5"/>
<circle cx="483.3" cy="854.8" r="6.5" fill="#fff" stroke="#000" stroke-width="1.5"/>
<polyline fill="none" stroke="#000" stroke-width="1.9" stroke-linejoin="round" points="69.0,761.5 110.7,769.5 152.0,773.5 194.3,788.0 318.8,821.5 483.3,862.5"/>
<polygon fill="#000" stroke="none" stroke-width="0" points="69.0,756.5 75.5,766.5 62.5,766.5"/>
<polygon fill="#000" stroke="none" stroke-width="0" points="110.7,764.5 117.2,774.5 104.2,774.5"/>
<polygon fill="#000" stroke="none" stroke-width="0" points="152.0,768.5 158.5,778.5 145.5,778.5"/>
<polygon fill="#000" stroke="none" stroke-width="0" points="194.3,783.0 200.8,793.0 187.8,793.0"/>
<polygon fill="#000" stroke="none" stroke-width="0" points="318.8,816.5 325.3,826.5 312.3,826.5"/>
<polygon fill="#000" stroke="none" stroke-width="0" points="483.3,857.5 489.8,867.5 476.8,867.5"/>
<polyline fill="none" stroke="#d31120" stroke-width="1.6" stroke-linejoin="round" points="69.0,761.5 110.7,644.0 152.0,630.8 194.3,638.5 318.8,662.3 483.3,729.8"/>
<circle cx="69.0" cy="761.5" r="7.3" fill="#e80c14" stroke="none" stroke-width="0"/>
<circle cx="110.7" cy="644.0" r="7.3" fill="#e80c14" stroke="none" stroke-width="0"/>
<circle cx="152.0" cy="630.8" r="7.3" fill="#e80c14" stroke="none" stroke-width="0"/>
<circle cx="194.3" cy="638.5" r="7.3" fill="#e80c14" stroke="none" stroke-width="0"/>
<circle cx="318.8" cy="662.3" r="7.3" fill="#e80c14" stroke="none" stroke-width="0"/>
<circle cx="483.3" cy="729.8" r="7.3" fill="#e80c14" stroke="none" stroke-width="0"/>
<polyline fill="none" stroke="#d31120" stroke-width="1.6" stroke-linejoin="round" points="69.0,761.5 110.7,657.8 152.0,653.2 194.3,660.0 318.8,694.6 483.3,758.8"/>
<circle cx="69.0" cy="761.5" r="6.5" fill="#fff" stroke="#e80c14" stroke-width="1.5"/>
<circle cx="110.7" cy="657.8" r="6.5" fill="#fff" stroke="#e80c14" stroke-width="1.5"/>
<circle cx="152.0" cy="653.2" r="6.5" fill="#fff" stroke="#e80c14" stroke-width="1.5"/>
<circle cx="194.3" cy="660.0" r="6.5" fill="#fff" stroke="#e80c14" stroke-width="1.5"/>
<circle cx="318.8" cy="694.6" r="6.5" fill="#fff" stroke="#e80c14" stroke-width="1.5"/>
<circle cx="483.3" cy="758.8" r="6.5" fill="#fff" stroke="#e80c14" stroke-width="1.5"/>
<polyline fill="none" stroke="#d31120" stroke-width="1.6" stroke-linejoin="round" points="69.0,761.5 110.7,689.2 152.0,690.8 194.3,703.0 318.8,746.9 483.3,812.5"/>
<polygon fill="#e80c14" stroke="none" stroke-width="0" points="69.0,756.5 75.5,766.5 62.5,766.5"/>
<polygon fill="#e80c14" stroke="none" stroke-width="0" points="110.7,684.2 117.2,694.2 104.2,694.2"/>
<polygon fill="#e80c14" stroke="none" stroke-width="0" points="152.0,685.8 158.5,695.8 145.5,695.8"/>
<polygon fill="#e80c14" stroke="none" stroke-width="0" points="194.3,698.0 200.8,708.0 187.8,708.0"/>
<polygon fill="#e80c14" stroke="none" stroke-width="0" points="318.8,741.9 325.3,751.9 312.3,751.9"/>
<polygon fill="#e80c14" stroke="none" stroke-width="0" points="483.3,807.5 489.8,817.5 476.8,817.5"/>
<polyline fill="none" stroke="#2860e6" stroke-width="1.6" stroke-linejoin="round" points="69.0,761.5 110.7,580.9 152.0,537.8 194.3,536.0 318.8,547.6 483.3,629.8"/>
<circle cx="69.0" cy="761.5" r="7.3" fill="#2468ee" stroke="none" stroke-width="0"/>
<circle cx="110.7" cy="580.9" r="7.3" fill="#2468ee" stroke="none" stroke-width="0"/>
<circle cx="152.0" cy="537.8" r="7.3" fill="#2468ee" stroke="none" stroke-width="0"/>
<circle cx="194.3" cy="536.0" r="7.3" fill="#2468ee" stroke="none" stroke-width="0"/>
<circle cx="318.8" cy="547.6" r="7.3" fill="#2468ee" stroke="none" stroke-width="0"/>
<circle cx="483.3" cy="629.8" r="7.3" fill="#2468ee" stroke="none" stroke-width="0"/>
<polyline fill="none" stroke="#2860e6" stroke-width="1.6" stroke-linejoin="round" points="69.0,761.5 110.7,592.9 152.0,563.7 194.3,575.4 318.8,632.2 483.3,708.4"/>
<circle cx="69.0" cy="761.5" r="6.5" fill="#fff" stroke="#2468ee" stroke-width="1.5"/>
<circle cx="110.7" cy="592.9" r="6.5" fill="#fff" stroke="#2468ee" stroke-width="1.5"/>
<circle cx="152.0" cy="563.7" r="6.5" fill="#fff" stroke="#2468ee" stroke-width="1.5"/>
<circle cx="194.3" cy="575.4" r="6.5" fill="#fff" stroke="#2468ee" stroke-width="1.5"/>
<circle cx="318.8" cy="632.2" r="6.5" fill="#fff" stroke="#2468ee" stroke-width="1.5"/>
<circle cx="483.3" cy="708.4" r="6.5" fill="#fff" stroke="#2468ee" stroke-width="1.5"/>
<polyline fill="none" stroke="#2860e6" stroke-width="1.6" stroke-linejoin="round" points="69.0,761.5 110.7,612.3 152.0,633.2 194.3,639.4 318.8,697.0 483.3,787.0"/>
<polygon fill="#2468ee" stroke="none" stroke-width="0" points="69.0,756.5 75.5,766.5 62.5,766.5"/>
<polygon fill="#2468ee" stroke="none" stroke-width="0" points="110.7,607.3 117.2,617.3 104.2,617.3"/>
<polygon fill="#2468ee" stroke="none" stroke-width="0" points="152.0,628.2 158.5,638.2 145.5,638.2"/>
<polygon fill="#2468ee" stroke="none" stroke-width="0" points="194.3,634.4 200.8,644.4 187.8,644.4"/>
<polygon fill="#2468ee" stroke="none" stroke-width="0" points="318.8,692.0 325.3,702.0 312.3,702.0"/>
<polygon fill="#2468ee" stroke="none" stroke-width="0" points="483.3,782.0 489.8,792.0 476.8,792.0"/>
<circle cx="69.0" cy="761.5" r="6.9" fill="#2468ee" stroke="none" stroke-width="0"/>
<polygon fill="#2468ee" stroke="#cfe0ff" stroke-width="1" points="69.0,756.8 75.0,766.2 63.0,766.2"/>
<rect x="69.0" y="436.0" width="435.7" height="434.0" fill="none" stroke="#000" stroke-width="1.7"/>
<line x1="378.00" y1="465.30" x2="420.00" y2="465.30" stroke="#000" stroke-width="1.3" />
<circle cx="399.8" cy="465.3" r="7.4" fill="#000" stroke="none" stroke-width="0"/>
<line x1="378.00" y1="490.50" x2="420.00" y2="490.50" stroke="#000" stroke-width="1.3" />
<circle cx="399.8" cy="490.5" r="6.5" fill="#fff" stroke="#000" stroke-width="1.5"/>
<line x1="378.00" y1="515.30" x2="420.00" y2="515.30" stroke="#000" stroke-width="1.3" />
<polygon fill="#000" stroke="none" stroke-width="0" points="399.5,510.3 406.8,520.8 392.2,520.8"/>
<text transform="translate(425.00,474.20) scale(1.05,1)" font-size="22.5" text-anchor="start" fill="#000" font-weight="normal"  stroke="#000" stroke-width="0.7" stroke-linejoin="round">5 K</text>
<text transform="translate(425.00,499.50) scale(1.05,1)" font-size="22.5" text-anchor="start" fill="#000" font-weight="normal"  stroke="#000" stroke-width="0.7" stroke-linejoin="round">27 K</text>
<text transform="translate(425.00,524.20) scale(1.05,1)" font-size="22.5" text-anchor="start" fill="#000" font-weight="normal"  stroke="#000" stroke-width="0.7" stroke-linejoin="round">45 K</text>
<text transform="translate(98.00,464.80)" font-size="24.5" text-anchor="start" fill="#000" font-weight="normal"  stroke="#000" stroke-width="0.7" stroke-linejoin="round">(b)</text>
<text transform="translate(224.50,577.80) scale(1.1,1)" font-size="22.5" text-anchor="start" fill="#2468ee" font-weight="normal"  stroke="#2468ee" stroke-width="0.7" stroke-linejoin="round">6 T</text>
<text transform="translate(225.80,704.80) scale(1.08,1)" font-size="22.5" text-anchor="start" fill="#cc0000" font-weight="normal"  stroke="#cc0000" stroke-width="0.7" stroke-linejoin="round">2 T</text>
<text transform="translate(222.50,834.60) scale(1.06,1)" font-size="22.5" text-anchor="start" fill="#000" font-weight="normal"  stroke="#000" stroke-width="0.7" stroke-linejoin="round">0.2 T</text>
<text transform="translate(64.60,443.20) scale(1.06,1)" font-size="22.5" text-anchor="end" fill="#000" font-weight="normal"  stroke="#000" stroke-width="0.7" stroke-linejoin="round">2.5</text>
<text transform="translate(64.60,551.70) scale(1.06,1)" font-size="22.5" text-anchor="end" fill="#000" font-weight="normal"  stroke="#000" stroke-width="0.7" stroke-linejoin="round">2.0</text>
<text transform="translate(64.60,660.20) scale(1.06,1)" font-size="22.5" text-anchor="end" fill="#000" font-weight="normal"  stroke="#000" stroke-width="0.7" stroke-linejoin="round">1.5</text>
<text transform="translate(64.60,768.70) scale(1.06,1)" font-size="22.5" text-anchor="end" fill="#000" font-weight="normal"  stroke="#000" stroke-width="0.7" stroke-linejoin="round">1.0</text>
<text transform="translate(64.60,877.20) scale(1.06,1)" font-size="22.5" text-anchor="end" fill="#000" font-weight="normal"  stroke="#000" stroke-width="0.7" stroke-linejoin="round">0.5</text>
<text transform="translate(69.00,896.80) scale(1.03,1)" font-size="23.5" text-anchor="middle" fill="#000" font-weight="normal"  stroke="#000" stroke-width="0.7" stroke-linejoin="round">0</text>
<text transform="translate(131.24,896.80) scale(1.03,1)" font-size="23.5" text-anchor="middle" fill="#000" font-weight="normal"  stroke="#000" stroke-width="0.7" stroke-linejoin="round">0.5</text>
<text transform="translate(193.49,896.80) scale(1.03,1)" font-size="23.5" text-anchor="middle" fill="#000" font-weight="normal"  stroke="#000" stroke-width="0.7" stroke-linejoin="round">1.0</text>
<text transform="translate(255.73,896.80) scale(1.03,1)" font-size="23.5" text-anchor="middle" fill="#000" font-weight="normal"  stroke="#000" stroke-width="0.7" stroke-linejoin="round">1.5</text>
<text transform="translate(317.97,896.80) scale(1.03,1)" font-size="23.5" text-anchor="middle" fill="#000" font-weight="normal"  stroke="#000" stroke-width="0.7" stroke-linejoin="round">2.0</text>
<text transform="translate(380.21,896.80) scale(1.03,1)" font-size="23.5" text-anchor="middle" fill="#000" font-weight="normal"  stroke="#000" stroke-width="0.7" stroke-linejoin="round">2.5</text>
<text transform="translate(442.46,896.80) scale(1.03,1)" font-size="23.5" text-anchor="middle" fill="#000" font-weight="normal"  stroke="#000" stroke-width="0.7" stroke-linejoin="round">3.0</text>
<text transform="translate(504.70,896.80) scale(1.03,1)" font-size="23.5" text-anchor="middle" fill="#000" font-weight="normal"  stroke="#000" stroke-width="0.7" stroke-linejoin="round">3.5</text>
<text transform="translate(23.70,649.00) rotate(-90) scale(1.1,1)" font-size="26" text-anchor="middle" fill="#000" font-weight="normal"  stroke="#000" stroke-width="0.7" stroke-linejoin="round">Enhancement</text>
<text transform="translate(142.00,935.00) scale(1.055,1)" font-size="27.5" text-anchor="start" fill="#000" font-weight="normal"  stroke="#000" stroke-width="0.7" stroke-linejoin="round">Dose (10<tspan font-size="17.5" dy="-9.5">13</tspan><tspan dy="9.5"> O-ion/cm</tspan><tspan font-size="17.5" dy="-9.5">2</tspan><tspan dy="9.5">)</tspan></text>
</svg></body></html>
